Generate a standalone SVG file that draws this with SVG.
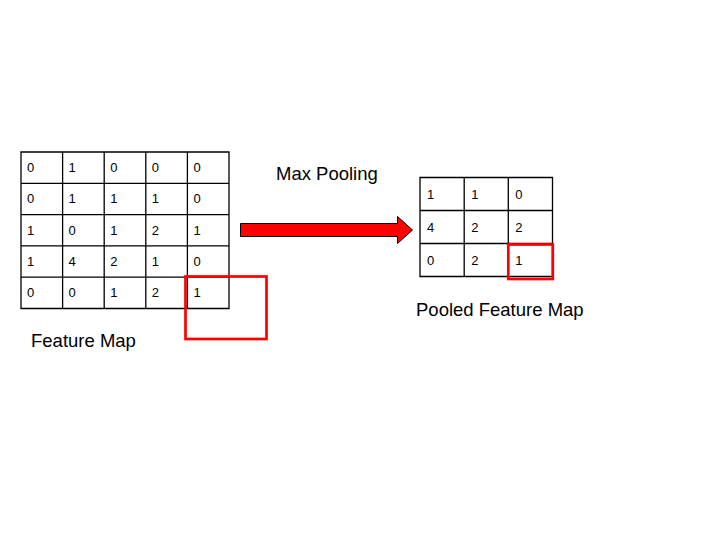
<svg xmlns="http://www.w3.org/2000/svg" width="720" height="540" viewBox="0 0 720 540">
<style>
.grid{fill:none;stroke:#000;stroke-width:1.3}
.cell{font-family:"Liberation Sans",Arial,sans-serif;font-size:13px;fill:#000}
.label{font-family:"Liberation Sans",Arial,sans-serif;font-size:18.5px;fill:#000}
.hl{fill:none;stroke:#ff0000;stroke-width:2.7}
</style>
<rect width="720" height="540" fill="#fff"/>
<g id="feature-map">
<path class="grid" d="M21,152H229V308.5H21Z M62.6,152V308.5 M104.2,152V308.5 M145.8,152V308.5 M187.4,152V308.5 M21,183.3H229 M21,214.6H229 M21,245.9H229 M21,277.2H229"/>
<g class="cell">
<text x="27" y="172">0</text><text x="68.6" y="172">1</text><text x="110.2" y="172">0</text><text x="151.8" y="172">0</text><text x="193.4" y="172">0</text>
<text x="27" y="203.3">0</text><text x="68.6" y="203.3">1</text><text x="110.2" y="203.3">1</text><text x="151.8" y="203.3">1</text><text x="193.4" y="203.3">0</text>
<text x="27" y="234.6">1</text><text x="68.6" y="234.6">0</text><text x="110.2" y="234.6">1</text><text x="151.8" y="234.6">2</text><text x="193.4" y="234.6">1</text>
<text x="27" y="265.9">1</text><text x="68.6" y="265.9">4</text><text x="110.2" y="265.9">2</text><text x="151.8" y="265.9">1</text><text x="193.4" y="265.9">0</text>
<text x="27" y="297.2">0</text><text x="68.6" y="297.2">0</text><text x="110.2" y="297.2">1</text><text x="151.8" y="297.2">2</text><text x="193.4" y="297.2">1</text>
</g>
<text class="label" x="31" y="347">Feature Map</text>
</g>
<g id="window">
<rect class="hl" x="185.5" y="276.5" width="81" height="62.5"/>
</g>
<g id="connectors">
<path d="M240.5,223.5H397.5V216.5L412.5,230L397.5,243.5V236.5H240.5Z" fill="#ff0000" stroke="#000" stroke-width="1"/>
<text class="label" x="276" y="180">Max Pooling</text>
</g>
<g id="pooled-map">
<path class="grid" d="M420,177.5H552.5V276.5H420Z M464.2,177.5V276.5 M508.3,177.5V276.5 M420,210.5H552.5 M420,243.5H552.5"/>
<g class="cell">
<text x="427" y="198.5">1</text><text x="471.2" y="198.5">1</text><text x="515.3" y="198.5">0</text>
<text x="427" y="231.5">4</text><text x="471.2" y="231.5">2</text><text x="515.3" y="231.5">2</text>
<text x="427" y="264.5">0</text><text x="471.2" y="264.5">2</text><text x="515.3" y="264.5">1</text>
</g>
<rect class="hl" x="508.3" y="244.5" width="44.5" height="34.5"/>
<text class="label" x="416" y="316">Pooled Feature Map</text>
</g>
</svg>
